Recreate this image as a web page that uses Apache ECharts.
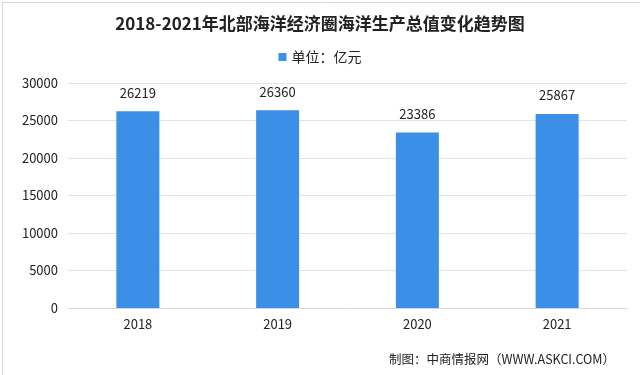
<!DOCTYPE html>
<html><head><meta charset="utf-8">
<script src="https://cdn.jsdelivr.net/npm/echarts@6/dist/echarts.min.js"></script>
<style>html,body{margin:0;padding:0;background:#fff}#c{width:640px;height:375px}</style>
</head><body><div id="c"></div>
<script>
var title = '2018-2021年北部海洋经济圈海洋生产总值变化趋势图';
var seriesName = '单位：亿元';
var categories = ['2018', '2019', '2020', '2021'];
var values = [26219, 26360, 23386, 25867];
var yTicks = [0, 5000, 10000, 15000, 20000, 25000, 30000];
var source = '制图：中商情报网（WWW.ASKCI.COM）';

var chart = echarts.init(document.getElementById('c'), null, {renderer: 'canvas'});
var font = '"Noto Sans CJK SC", "DejaVu Sans", sans-serif';
chart.setOption({
  backgroundColor: '#fff',
  animation: false,
  title: {
    text: title, left: 'center', top: 10,
    textStyle: {fontSize: 17, fontWeight: 'bold', color: '#222', fontFamily: font}
  },
  legend: {
    data: [seriesName], top: 45, left: 'center',
    itemWidth: 8, itemHeight: 8, icon: 'rect', itemGap: 5,
    textStyle: {fontSize: 14, color: '#222', fontFamily: font}
  },
  graphic: [{
    type: 'text', right: 25, top: 353,
    style: {text: source, fill: '#222', font: '12.5px ' + font}
  }, {
    type: 'rect', left: 0, top: 0, shape: {x: 0.5, y: 0.5, width: 638, height: 373},
    style: {fill: 'none', stroke: '#d9d9d9', lineWidth: 1}, silent: true
  }],
  grid: {left: 68, right: 13, top: 83, bottom: 67},
  xAxis: {
    type: 'category', data: categories,
    axisLine: {lineStyle: {color: '#d9d9d9'}},
    axisTick: {show: false},
    axisLabel: {fontSize: 13, color: '#222', margin: 10, fontFamily: font}
  },
  yAxis: {
    type: 'value', min: yTicks[0], max: yTicks[yTicks.length - 1], interval: yTicks[1] - yTicks[0],
    axisLine: {show: false}, axisTick: {show: false},
    splitLine: {lineStyle: {color: '#e3e3e3'}},
    axisLabel: {fontSize: 13, color: '#222', margin: 10, fontFamily: font, formatter: function (v) { return String(v); }}
  },
  series: [{
    name: seriesName, type: 'bar', data: values, barWidth: 43,
    itemStyle: {color: '#3b8fe6'},
    label: {show: true, position: 'top', distance: 12, fontSize: 13, color: '#222', fontFamily: font}
  }]
});
</script></body></html>
